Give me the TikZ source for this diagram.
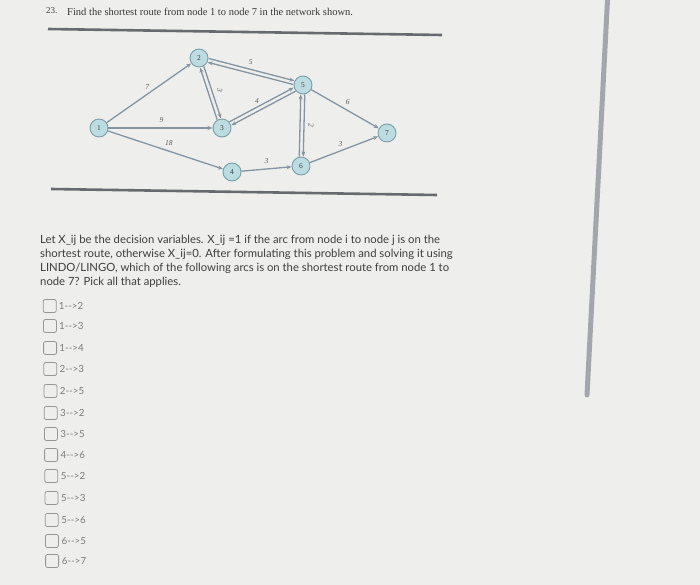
\documentclass[tikz,border=0pt]{standalone}
\usepackage{fontspec}
\setmainfont{Lato}
\newfontfamily\titlefont{Liberation Serif}
\usetikzlibrary{arrows.meta}
\definecolor{bgc}{HTML}{EEEFEC}
\definecolor{arcc}{HTML}{8494A2}
\definecolor{nodefill}{HTML}{BCDCE2}
\definecolor{nodeline}{HTML}{7D9EA8}
\definecolor{txt}{HTML}{3E3E3E}
\definecolor{opt}{HTML}{7C7C7C}
\definecolor{rulec}{HTML}{676A6E}
\definecolor{scrollc}{HTML}{A3A6AD}
\tikzset{
  netnode/.style={circle,draw=nodeline,line width=0.9pt,fill=nodefill,minimum size=18pt,inner sep=0pt,font=\titlefont\fontsize{7.5}{8}\selectfont,text=txt},
  arc/.style={draw=arcc,line width=1.3pt,-{Stealth[length=5pt,width=4pt]}},
  lbl/.style={font=\titlefont\itshape\fontsize{7.5}{8}\selectfont,text=txt!85,inner sep=0.5pt},
  cbox/.style={draw=opt!80,line width=0.8pt,rounded corners=2pt,minimum size=13pt,inner sep=0pt},
  opttext/.style={anchor=west,font=\fontsize{9.8}{11}\selectfont,text=opt,inner sep=0pt},
  rulestyle/.style={draw=rulec,line width=2.6pt}
}
\begin{document}
\begin{tikzpicture}[x=1pt,y=-1pt]
\useasboundingbox[fill=bgc] (0,0) rectangle (700,585);
% title
\node[anchor=west,font=\titlefont\fontsize{9}{10}\selectfont,text=txt,inner sep=0pt] (num) at (46,11) {23.};
\node[anchor=west,font=\titlefont\fontsize{10.5}{12}\selectfont,text=txt!90!black,inner sep=0pt] (title) at (67,12) {Find the shortest route from node 1 to node 7 in the network shown.};
% rules
\coordinate (r1a) at (48,29); \coordinate (r1b) at (442,35);
\coordinate (r2a) at (51,189); \coordinate (r2b) at (437,195);
\draw[rulestyle] (r1a) -- (r1b);
\draw[rulestyle] (r2a) -- (r2b);
% network
\node[netnode] (n1) at (99,128) {1};
\node[netnode] (n2) at (199,58) {2};
\node[netnode] (n3) at (222,128) {3};
\node[netnode] (n4) at (232,172) {4};
\node[netnode] (n5) at (303,85) {5};
\node[netnode] (n6) at (301,166) {6};
\node[netnode] (n7) at (387,133) {7};
\draw[arc] (n1) -- node[lbl,pos=0.48,yshift=7pt]{7} (n2);
\draw[arc] (n1) -- node[lbl,pos=0.51,yshift=8pt]{9} (n3);
\draw[arc] (n1) -- node[lbl,pos=0.53,yshift=8pt]{18} (n4);
\draw[arc,transform canvas={xshift=1.9pt,yshift=0.6pt}] (n2) -- node[lbl,pos=0.47,xshift=8pt,rotate=-90]{3} (n3);
\draw[arc,transform canvas={xshift=-1.9pt,yshift=-0.6pt}] (n3) -- (n2);
\draw[arc,transform canvas={xshift=0.5pt,yshift=1.9pt}] (n2) -- node[lbl,pos=0.49,yshift=7pt]{5} (n5);
\draw[arc,transform canvas={xshift=-0.5pt,yshift=-1.9pt}] (n5) -- (n2);
\draw[arc,transform canvas={xshift=-0.9pt,yshift=1.8pt}] (n3) -- node[lbl,pos=0.43,yshift=6pt]{4} (n5);
\draw[arc,transform canvas={xshift=0.9pt,yshift=-1.8pt}] (n5) -- (n3);
\draw[arc,transform canvas={xshift=2pt}] (n5) -- node[lbl,pos=0.5,xshift=7pt,rotate=-90]{2} (n6);
\draw[arc,transform canvas={xshift=-2pt}] (n6) -- (n5);
\draw[arc] (n5) -- node[lbl,pos=0.54,yshift=8pt]{6} (n7);
\draw[arc] (n4) -- node[lbl,pos=0.5,yshift=8pt]{3} (n6);
\draw[arc] (n6) -- node[lbl,pos=0.45,yshift=7pt]{3} (n7);
% question text
\node[anchor=north west,align=left,font=\fontsize{11.3}{14}\selectfont,text=txt,inner sep=0pt] (q) at (40,235)
{Let X\_ij be the decision variables. X\_ij =1 if the arc from node i to node j is on the\\
shortest route, otherwise X\_ij=0. After formulating this problem and solving it using\\
LINDO/LINGO, which of the following arcs is on the shortest route from node 1 to\\
node 7? Pick all that applies.};
% options
\foreach \i/\t/\y in {1/1-{}->2/306,2/1-{}->3/326,3/1-{}->4/348,4/2-{}->3/369,5/2-{}->5/391,6/3-{}->2/413,7/3-{}->5/434,8/4-{}->6/455,9/5-{}->2/476,10/5-{}->3/498,11/5-{}->6/520,12/6-{}->5/541,13/6-{}->7/561}{
  \node[cbox] (b\i) at ({49.5+0.2*\i},\y) {};
  \node[opttext] (t\i) at ({58.5+0.25*\i},\y) {\t};
}
% scrollbar
\coordinate (s1) at (607.5,0); \coordinate (s2) at (587,395);
\draw[scrollc,line width=5pt,line cap=round] (s1) -- (s2);
\end{tikzpicture}
\end{document}
